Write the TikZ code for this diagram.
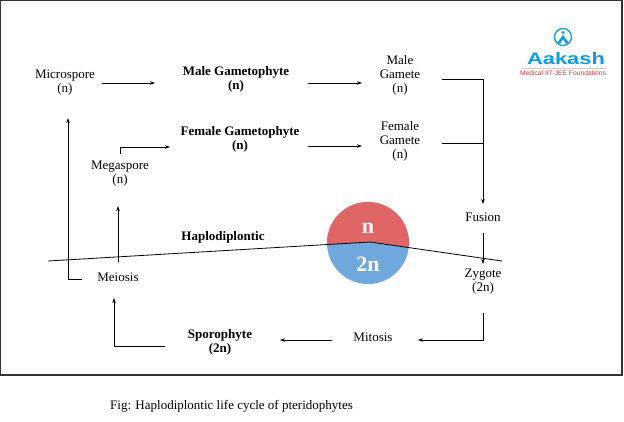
\documentclass[tikz,border=0pt]{standalone}
\usepackage{fontspec}
\setmainfont{Liberation Serif}
\newfontfamily\logofont{Liberation Sans}
\usetikzlibrary{arrows.meta}
\definecolor{redhalf}{HTML}{E06666}
\definecolor{bluehalf}{HTML}{6FA8DC}
\definecolor{aakashblue}{HTML}{0E9BDF}
\definecolor{aakashred}{HTML}{E3342F}
\begin{document}
\begin{tikzpicture}[x=1pt,y=-1pt,
    lbl/.style={align=center,inner sep=0pt,font=\fontsize{13}{14}\selectfont},
    blbl/.style={lbl,font=\fontsize{13}{14}\selectfont\bfseries},
    arr/.style={line width=0.8pt,-{Stealth[length=5pt,width=3.5pt]}},
    ln/.style={line width=0.8pt}]
    \useasboundingbox (0,0) rectangle (624,421);
    \draw[line width=1.2pt,black!80] (0.6,0.6) rectangle (622,375);

    % haploid stage
    \node[lbl] (micro) at (65,83) {Microspore\\(n)};
    \node[blbl] (malegp) at (236,79) {Male Gametophyte\\(n)};
    \node[lbl] (malegam) at (400,75) {Male\\Gamete\\(n)};
    \node[blbl] (femgp) at (240,139) {Female Gametophyte\\(n)};
    \node[lbl] (femgam) at (400,141) {Female\\Gamete\\(n)};
    \node[lbl] (mega) at (120,174) {Megaspore\\(n)};
    \node[lbl] (fusion) at (483,217) {Fusion};

    % diploid stage
    \node[lbl] (meiosis) at (118,277) {Meiosis};
    \node[lbl] (zygote) at (483,282) {Zygote\\(2n)};
    \node[blbl] (sporo) at (220,342) {Sporophyte\\(2n)};
    \node[lbl] (mitosis) at (373,337) {Mitosis};

    % dividing line and ploidy circle
    \coordinate (hl) at (48,261);
    \coordinate (peak) at (370,242);
    \coordinate (hr) at (502,261);
    \coordinate (ploidy) at (368,243);
    \fill[bluehalf] (ploidy) circle[radius=41];
    \begin{scope}
    \clip (ploidy) circle[radius=41];
    \fill[redhalf] (hl) -- (peak) -- (hr) -- (502,190) -- (48,190) -- cycle;
    \end{scope}
    \draw[ln] (hl) -- (peak) -- (hr);
    \node[inner sep=0pt,text=white,font=\fontsize{22}{24}\selectfont\bfseries] (hapn) at (368,228) {n};
    \node[inner sep=0pt,text=white,font=\fontsize{22}{24}\selectfont\bfseries] (dipn) at (368,264) {2n};
    \node[blbl] (haplo) at (223,237) {Haplodiplontic};

    % connectors
    \draw[arr] ([shift={(37,0)}]micro.center) -- ([shift={(-81,4)}]malegp.center);
    \draw[arr] ([shift={(72,4)}]malegp.center) -- ([shift={(-38,8)}]malegam.center);
    \draw[arr] ([shift={(42,4)}]malegam.center) -| ([shift={(0,-13)}]fusion.center);
    \draw[ln] ([shift={(42,2)}]femgam.center) coordinate (fg) -- (fg -| fusion.center);
    \draw[arr] ([shift={(68,7)}]femgp.center) -- ([shift={(-38,5)}]femgam.center);
    \draw[arr] ([shift={(0,-20)}]mega.center) |- ([shift={(-70,8)}]femgp.center);
    \draw[arr] ([shift={(0,-15)}]meiosis.center) -- ([shift={(-2,32)}]mega.center);
    \draw[arr] ([shift={(-36,2)}]meiosis.center) -| ([shift={(3,35)}]micro.center);
    \draw[arr] ([shift={(-55,4)}]sporo.center) -| ([shift={(-4,21)}]meiosis.center);
    \draw[arr] ([shift={(-41,3)}]mitosis.center) -- ([shift={(60,-2)}]sporo.center);
    \draw[arr] ([shift={(0,31)}]zygote.center) |- ([shift={(45,3)}]mitosis.center);
    \draw[arr] ([shift={(0,16)}]fusion.center) -- ([shift={(0,-18)}]zygote.center);

    % logo
    \draw[aakashblue,line width=1.3pt] (563,37) circle[radius=8.5];
    \fill[aakashblue] (563,32.5) circle[radius=1.6];
    \fill[aakashblue] (563,34.8) -- (557.5,42.5) -- (560,43.6) -- (563,39.5) -- (566,43.6) -- (568.5,42.5) -- cycle;
    \node[anchor=base,inner sep=0pt,text=aakashblue,font=\logofont\bfseries] (brand) at (566,64) {\resizebox{78pt}{12pt}{Aakash}};
    \draw[gray!40,line width=0.6pt] (521,68) -- (606,68);
    \node[anchor=base,inner sep=0pt,text=aakashred,font=\logofont] (tagline) at (563,75) {\resizebox{86pt}{!}{Medical IIT-JEE Foundations}};

    \node[lbl,anchor=west] (caption) at (110,406) {Fig: Haplodiplontic life cycle of pteridophytes};
\end{tikzpicture}
\end{document}
